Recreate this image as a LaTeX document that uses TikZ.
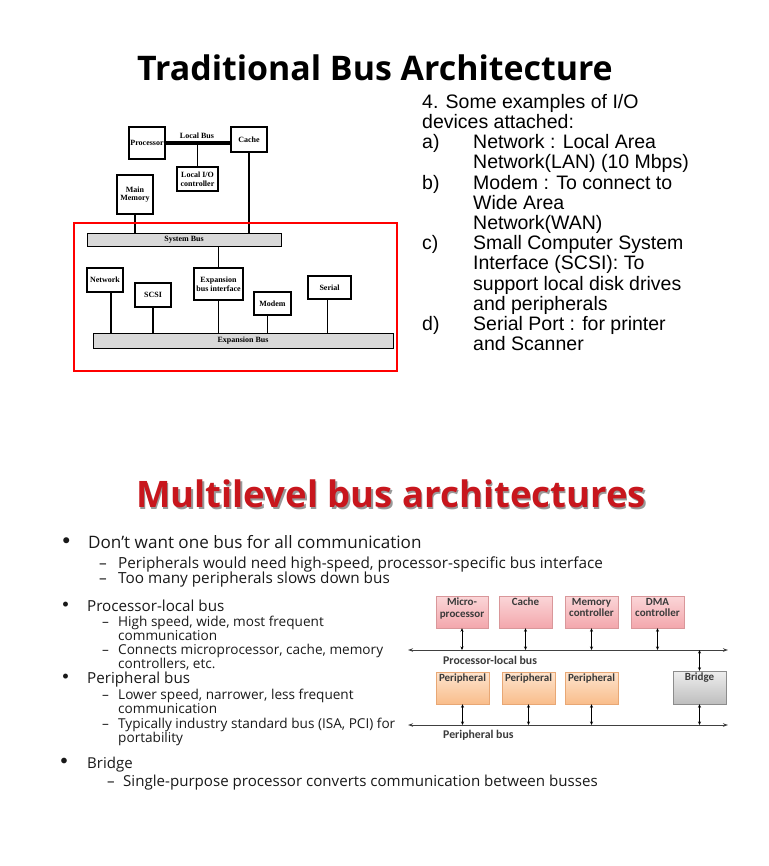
\documentclass[tikz,border=0pt]{standalone}
\usepackage{fontspec}
\setmainfont{Carlito}
\newfontfamily\arialfont{Liberation Sans}
\newfontfamily\timesfont{Liberation Serif}
\newfontfamily\slidefont{Open Sans}
\usetikzlibrary{arrows.meta,positioning}
\definecolor{busgray}{HTML}{D9D9D9}
\definecolor{mlred}{HTML}{C8161D}
\definecolor{pinktop}{HTML}{FBD6D8}
\definecolor{pinkbot}{HTML}{F3A7AC}
\definecolor{pinkedge}{HTML}{D9979A}
\definecolor{orantop}{HTML}{FDE4CE}
\definecolor{oranbot}{HTML}{F9BD8B}
\definecolor{oranedge}{HTML}{E8A774}
\definecolor{greytop}{HTML}{EEEEEE}
\definecolor{greybot}{HTML}{BEBEBE}
\definecolor{greyedge}{HTML}{8C8C8C}
\definecolor{inktext}{HTML}{3A3A3A}
\newcommand{\iolabel}[1]{\makebox[51pt][l]{#1}}
\newcommand{\iohang}{\hspace*{51pt}}
\tikzset{
  oldbox/.style={draw, line width=1.1pt, fill=white, inner sep=1pt, align=center,
    font=\timesfont\bfseries\fontsize{8}{8.8}\selectfont},
  oldbus/.style={draw, line width=0.9pt, fill=busgray, inner sep=0pt,
    font=\timesfont\bfseries\fontsize{8}{8.8}\selectfont},
  oldwire/.style={line width=1.1pt},
  boxtext/.style={label={[anchor=north, inner sep=2pt, align=center, text=inktext,
    font=\bfseries\fontsize{11}{11.5}\selectfont]north:#1}},
  cpubox/.style={draw=pinkedge, top color=pinktop, bottom color=pinkbot,
    minimum width=53, minimum height=32, inner sep=0pt},
  perbox/.style={draw=oranedge, top color=orantop, bottom color=oranbot,
    minimum width=53, minimum height=32, inner sep=0pt},
  bridgebox/.style={draw=greyedge, top color=greytop, bottom color=greybot,
    minimum width=53, minimum height=33, inner sep=0pt},
  busline/.style={line width=0.9pt, draw=black!75,
    {Stealth[length=5pt,width=3.5pt]}-{Stealth[length=5pt,width=3.5pt]}},
  tapline/.style={line width=0.8pt,
    {Stealth[length=3.5pt,width=3pt]}-{Stealth[length=3.5pt,width=3pt]}},
  buslabel/.style={anchor=west, inner sep=0pt, text=inktext,
    font=\bfseries\fontsize{11.8}{13}\selectfont},
  mainpt/.style={anchor=west, inner sep=0pt, text=black!90, yshift=-2.5pt,
    text height=0.75em, text depth=0em},
  dotpt/.style={anchor=west, inner sep=0pt, text=black!90,
    font=\fontsize{17}{19}\selectfont},
}

\begin{document}
\begin{tikzpicture}[x=1pt, y=-1pt]
\useasboundingbox (0,0) rectangle (768,866);
% ---- titles ---------------------------------------------------------
\node[font=\slidefont\bfseries\fontsize{33.9}{38}\selectfont] (ttrad) at (375,68)
      {Traditional Bus Architecture};
\node[font=\slidefont\bfseries\fontsize{36.5}{40}\selectfont, text=black!40] (tmultishade) at (392.5,495.5)
      {Multilevel bus architectures};
\node[font=\slidefont\bfseries\fontsize{36.5}{40}\selectfont, text=mlred] (tmulti) at (391,494)
      {Multilevel bus architectures};
% ---- traditional bus: upper units -----------------------------------
\node[oldbox, minimum width=36, minimum height=32] (proc) at (147,143) {Processor};
\node[oldbox, minimum width=36, minimum height=25] (cache) at (249,139.5) {Cache};
\node[oldbox, minimum width=41, minimum height=24] (lio) at (197.5,179) {Local I/O\\controller};
\node[oldbox, minimum width=36, minimum height=39] (mem) at (135,194.5) {Main\\Memory};
\draw[line width=3.2pt] (proc.east) -- (proc.east -| cache.west);
\node[font=\timesfont\bfseries\fontsize{8}{8.8}\selectfont, inner sep=0pt] (lbus) at (197,136) {Local Bus};
\draw[oldwire] (lio.north |- proc.east) -- (lio.north);
% ---- system bus and expansion bus ------------------------------------
\node[oldbus, minimum width=194, minimum height=13] (sysbus) at (184,239.5) {System Bus};
\node[oldbus, minimum width=300, minimum height=15] (expbus) at (243,340.5) {Expansion Bus};
\draw[oldwire] (mem.south) -- (mem.south |- sysbus.north);
\draw[oldwire] (cache.south) -- (cache.south |- sysbus.north);
% ---- I/O devices ------------------------------------------------------
\node[oldbox, minimum width=36, minimum height=24] (net) at (105,280) {Network};
\node[oldbox, minimum width=36, minimum height=24] (scsi) at (153,295) {SCSI};
\node[oldbox, minimum width=49, minimum height=32] (ebi) at (218.5,284) {Expansion\\bus interface};
\node[oldbox, minimum width=37, minimum height=23] (modem) at (272.5,303.5) {Modem};
\node[oldbox, minimum width=43, minimum height=23] (serial) at (329.5,287.5) {Serial};
\draw[oldwire] (ebi.north |- sysbus.south) -- (ebi.north);
\draw[oldwire] ([xshift=6pt]net.south) -- ([xshift=6pt]net.south |- expbus.north);
\draw[oldwire] (scsi.south) -- (scsi.south |- expbus.north);
\draw[oldwire] (ebi.south) -- (ebi.south |- expbus.north);
\draw[oldwire] ([xshift=-5pt]modem.south) -- ([xshift=-5pt]modem.south |- expbus.north);
\draw[oldwire] ([xshift=-2pt]serial.south) -- ([xshift=-2pt]serial.south |- expbus.north);
\draw[red, line width=1.3pt] (74,223) rectangle (397,371);
% ---- examples of I/O devices ------------------------------------------
\node[anchor=north west, inner sep=0pt, align=left,
      font=\arialfont\fontsize{19.5}{20.2}\selectfont] (iolist) at (422,94)
  {4. Some examples of I/O\\
   devices attached:\\
   \iolabel{a)}Network : Local Area\\
   \iohang Network(LAN) (10 Mbps)\\
   \iolabel{b)}Modem : To connect to\\
   \iohang Wide Area\\
   \iohang Network(WAN)\\
   \iolabel{c)}Small Computer System\\
   \iohang Interface (SCSI): To\\
   \iohang support local disk drives\\
   \iohang and peripherals\\
   \iolabel{d)}Serial Port : for printer\\
   \iohang and Scanner};
% ---- bullet points ------------------------------------------------------
\node[dotpt] (b1) at (62,542) {\textbullet};
\node[mainpt, font=\slidefont\fontsize{17.1}{19}\selectfont] (b1t) at (88,542) {Don’t want one bus for all communication};
\node[mainpt, font=\slidefont\fontsize{15.3}{17}\selectfont] (b1a) at (99,562) {–};
\node[mainpt, font=\slidefont\fontsize{15.3}{17}\selectfont] (b1at) at (118,562) {Peripherals would need high-speed, processor-specific bus interface};
\node[mainpt, font=\slidefont\fontsize{15.3}{17}\selectfont] (b1b) at (99,577) {–};
\node[mainpt, font=\slidefont\fontsize{15.3}{17}\selectfont] (b1bt) at (118,577) {Too many peripherals slows down bus};
\node[dotpt, font=\fontsize{14}{16}\selectfont] (b2) at (62,605) {\textbullet};
\node[mainpt, font=\slidefont\fontsize{15.2}{17}\selectfont] (b2t) at (87,605) {Processor-local bus};
\node[mainpt, font=\slidefont\fontsize{13.6}{15}\selectfont] (b2a) at (102,620) {–};
\node[mainpt, font=\slidefont\fontsize{13.6}{15}\selectfont] (b2at) at (118,620) {High speed, wide, most frequent};
\node[mainpt, font=\slidefont\fontsize{13.6}{15}\selectfont] (b2at2) at (118,634) {communication};
\node[mainpt, font=\slidefont\fontsize{13.6}{15}\selectfont] (b2b) at (102,648) {–};
\node[mainpt, font=\slidefont\fontsize{13.6}{15}\selectfont] (b2bt) at (118,648) {Connects microprocessor, cache, memory};
\node[mainpt, font=\slidefont\fontsize{13.6}{15}\selectfont] (b2bt2) at (118,662) {controllers, etc.};
\node[dotpt, font=\fontsize{14}{16}\selectfont] (b3) at (62,677) {\textbullet};
\node[mainpt, font=\slidefont\fontsize{15.2}{17}\selectfont] (b3t) at (87,677) {Peripheral bus};
\node[mainpt, font=\slidefont\fontsize{13.6}{15}\selectfont] (b3a) at (102,693) {–};
\node[mainpt, font=\slidefont\fontsize{13.6}{15}\selectfont] (b3at) at (118,693) {Lower speed, narrower, less frequent};
\node[mainpt, font=\slidefont\fontsize{13.6}{15}\selectfont] (b3at2) at (118,707) {communication};
\node[mainpt, font=\slidefont\fontsize{13.6}{15}\selectfont] (b3b) at (102,722) {–};
\node[mainpt, font=\slidefont\fontsize{13.6}{15}\selectfont] (b3bt) at (118,722) {Typically industry standard bus (ISA, PCI) for};
\node[mainpt, font=\slidefont\fontsize{13.6}{15}\selectfont] (b3bt2) at (118,736) {portability};
\node[dotpt, font=\fontsize{16}{18}\selectfont] (b4) at (60,762) {\textbullet};
\node[mainpt, font=\slidefont\fontsize{15}{17}\selectfont] (b4t) at (87,762) {Bridge};
\node[mainpt, font=\slidefont\fontsize{15.1}{17}\selectfont] (b4a) at (107,780) {–};
\node[mainpt, font=\slidefont\fontsize{15.1}{17}\selectfont] (b4at) at (123,780) {Single-purpose processor converts communication between busses};
% ---- multilevel buses ---------------------------------------------------
\node[cpubox, minimum width=52, boxtext={Micro-\\processor}] (mp) at (462,612) {};
\node[cpubox, boxtext={Cache}] (cache2) at (525.5,612) {};
\node[cpubox, boxtext={Memory\\controller}] (memctl) at (591.5,612) {};
\node[cpubox, boxtext={DMA\\controller}] (dma) at (657.5,612) {};
\coordinate (plbusL) at (408,650);
\coordinate (plbusR) at (728,650);
\draw[busline] (plbusL) -- (plbusR);
\node[buslabel] (pllabel) at (443,660) {Processor-local bus};
\node[perbox, boxtext={Peripheral}] (per1) at (462.5,688) {};
\node[perbox, boxtext={Peripheral}] (per2) at (528.5,688) {};
\node[perbox, boxtext={Peripheral}] (per3) at (591.5,688) {};
\node[bridgebox, boxtext={Bridge}] (bridge) at (699.5,687.5) {};
\coordinate (pbusL) at (408,725);
\coordinate (pbusR) at (728,725);
\draw[busline] (pbusL) -- (pbusR);
\node[buslabel] (plabel) at (443,735) {Peripheral bus};
% ---- taps onto the buses --------------------------------------------------
\draw[tapline] (mp.south) -- (mp.south |- plbusL);
\draw[tapline] (cache2.south) -- (cache2.south |- plbusL);
\draw[tapline] (memctl.south) -- (memctl.south |- plbusL);
\draw[tapline] (dma.south) -- (dma.south |- plbusL);
\draw[tapline] (bridge.north) -- (bridge.north |- plbusL);
\draw[tapline] (bridge.south) -- (bridge.south |- pbusL);
\draw[tapline] (per1.south) -- (per1.south |- pbusL);
\draw[tapline] (per2.south) -- (per2.south |- pbusL);
\draw[tapline] (per3.south) -- (per3.south |- pbusL);
\end{tikzpicture}
\end{document}
